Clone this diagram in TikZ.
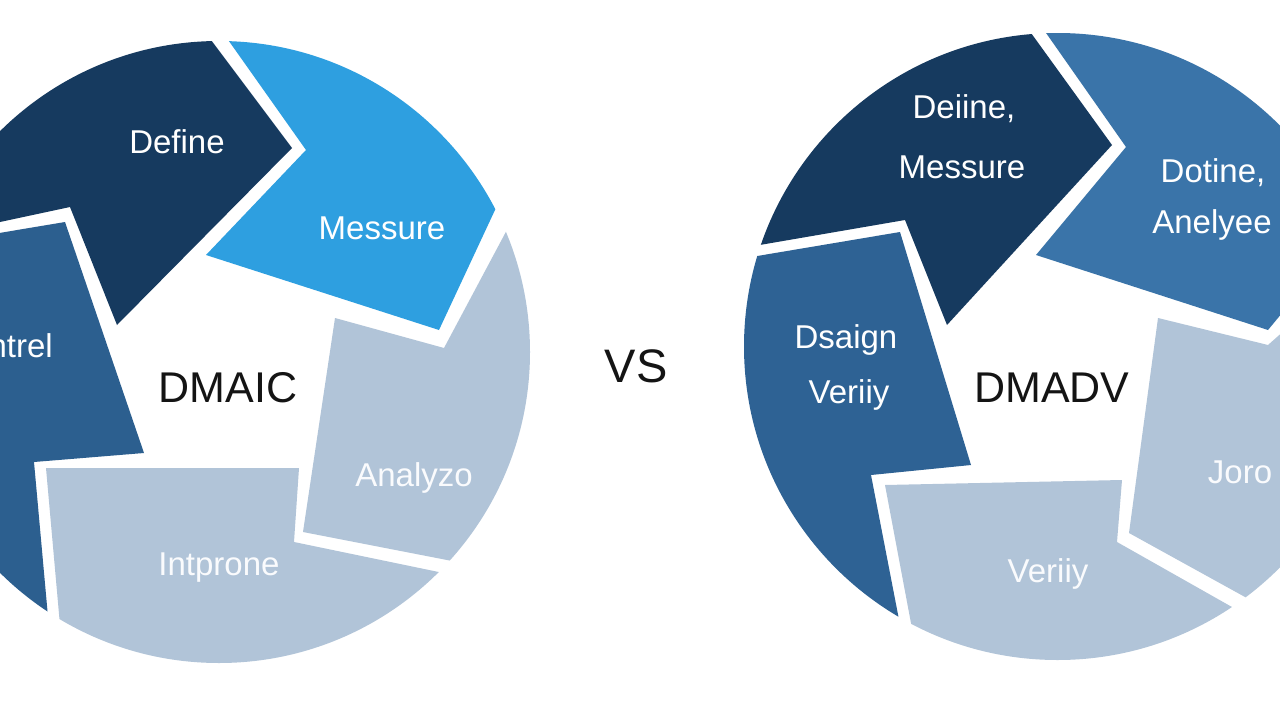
\documentclass[tikz,border=0pt]{standalone}
\usepackage{fontspec}
\setmainfont{Liberation Sans}
\definecolor{navy}{HTML}{163A5F}
\definecolor{brightblue}{HTML}{2E9FE0}
\definecolor{paleblue}{HTML}{B1C4D8}
\definecolor{midblue}{HTML}{2C5F8F}
\definecolor{steelblue}{HTML}{3A74A9}
\definecolor{dvblue}{HTML}{2E6294}
\begin{document}
\begin{tikzpicture}[x=1pt,y=-1pt,
  lbl/.style={text=white,font=\fontsize{33}{36}\selectfont,anchor=base,inner sep=0pt},
  palelbl/.style={lbl,text=white!94!paleblue},
  ttl/.style={text=black!92,font=\fontsize{43}{46}\selectfont,anchor=base,inner sep=0pt}]
\useasboundingbox (0,0) rectangle (1280,720);
\fill[white] (0,0) rectangle (1280,720);
% ---------- left circle: DMAIC ----------
\begin{scope}
\clip (219,352) circle (311pt);
\fill[navy] (184,4) -- (292,148) -- (117,325) -- (70,207) -- (0,222) -- (-120,248) -- (-120,-20) -- (184,-20) -- cycle;
\fill[brightblue] (202,3) -- (306,150) -- (206,255) -- (439,330) -- (495,210) -- (523,150) -- (600,-40) -- (202,-40) -- cycle;
\fill[paleblue] (335,318) -- (444,348) -- (541,166) -- (650,150) -- (650,620) -- (519,574) -- (303,532) -- cycle;
\fill[paleblue] (46,468) -- (299,468) -- (294,542) -- (511,587) -- (560,760) -- (64,760) -- (64,670) -- cycle;
\fill[midblue] (-150,258) -- (65,222) -- (144,453) -- (34,462) -- (52,661) -- (-150,720) -- cycle;
\end{scope}
\node[lbl] (define) at (177,153) {Define};
\node[lbl] (measure) at (382,239) {Messure};
\node[palelbl] (analyze) at (414,486) {Analyzo};
\node[palelbl] (improve) at (219,575) {Intprone};
\node[lbl,anchor=base east] (control) at (53,357) {ntrel};
\node[ttl] (dmaic) at (228,402) {DMAIC};
% ---------- middle ----------
\node[ttl,font=\fontsize{47}{50}\selectfont] (vs) at (636,382) {VS};
% ---------- right circle: DMADV ----------
\begin{scope}
\clip (1057.5,346.5) circle (313.5pt);
\fill[navy] (1005,-3) -- (1112,145) -- (947,325) -- (905,220) -- (690,257) -- (690,-40) -- (1005,-40) -- cycle;
\fill[steelblue] (1018,-7) -- (1126,147) -- (1036,255) -- (1268,330) -- (1330,255) -- (1420,255) -- (1420,-60) -- (1018,-60) -- cycle;
\fill[paleblue] (1158,318) -- (1268,345) -- (1330,290) -- (1450,290) -- (1450,720) -- (1303,629) -- (1129,533) -- cycle;
\fill[dvblue] (680,269) -- (900,232) -- (971,465) -- (871,475) -- (907,661) -- (700,720) -- (680,720) -- cycle;
\fill[paleblue] (885,485) -- (1122,480) -- (1117,542) -- (1285,637) -- (1120,760) -- (920,760) -- (920,671) -- cycle;
\end{scope}
\node[lbl] (dm1) at (964,118) {Deiine,};
\node[lbl] (dm2) at (962,178) {Messure};
\node[lbl] (da1) at (1213,182) {Dotine,};
\node[lbl] (da2) at (1212,233) {Anelyee};
\node[lbl] (dv1) at (846,348) {Dsaign};
\node[lbl] (dv2) at (849,403) {Veriiy};
\node[palelbl] (dev) at (1240,483) {Joro};
\node[palelbl] (ver) at (1048,582) {Veriiy};
\node[ttl] (dmadv) at (1052,402) {DMADV};
\end{tikzpicture}
\end{document}
